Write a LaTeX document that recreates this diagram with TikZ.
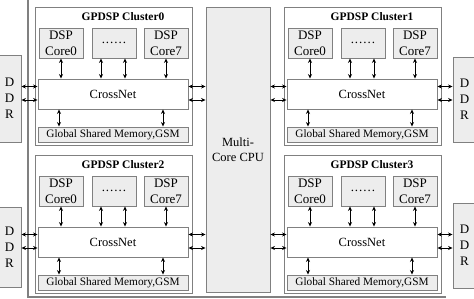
\documentclass[tikz,border=0pt]{standalone}
\usepackage{fontspec}
\setmainfont{Liberation Serif}
\usetikzlibrary{arrows.meta}
\definecolor{boxgray}{HTML}{808080}
\definecolor{fillgray}{HTML}{EDEDED}

\tikzset{
    clusterbox/.style={draw=boxgray, fill=white, line width=0.9pt, minimum width=157pt, minimum height=138pt, inner sep=0pt},
    corebox/.style={draw=boxgray, fill=fillgray, line width=0.9pt, minimum width=44pt, minimum height=30pt, inner sep=0pt, align=center, font=\fontsize{13}{16}\selectfont},
    netbox/.style={draw=boxgray, fill=white, line width=0.9pt, minimum width=150pt, minimum height=30pt, inner sep=0pt, font=\fontsize{12.5}{15}\selectfont},
    gsmbox/.style={draw=boxgray, fill=fillgray, line width=0.9pt, minimum width=150pt, minimum height=15pt, inner sep=0pt, font=\fontsize{11.3}{13}\selectfont},
    ddrbox/.style={draw=boxgray, fill=fillgray, line width=0.9pt, minimum width=23pt, inner sep=0pt, align=center, font=\fontsize{13}{16}\selectfont},
    biarrow/.style={{Stealth[length=4.5pt,width=4pt]}-{Stealth[length=4.5pt,width=4pt]}, line width=0.7pt},
}

\begin{document}
\begin{tikzpicture}[x=1pt, y=-1pt]
    \useasboundingbox (0,0) rectangle (474,299);
    % outer frame
    \draw[boxgray, line width=1.5pt] (28,-5) -- (28,297) -- (446,297);
    % memories and host
    \node[ddrbox, minimum height=87pt] (d0) at (9.5,98.5) {D\\D\\R};
    \node[ddrbox, minimum height=85pt] (d1) at (464.5,99.5) {D\\D\\R};
    \node[ddrbox, minimum height=80pt] (d2) at (9.5,247) {D\\D\\R};
    \node[ddrbox, minimum height=85pt] (d3) at (464.5,245.5) {D\\D\\R};
    \node[draw=boxgray, fill=fillgray, line width=0.9pt, minimum width=64pt, minimum height=285pt, inner sep=0pt, align=center, font=\fontsize{12.5}{15}\selectfont] (cpu) at (238,149.5) {Multi-\\Core CPU};
    % clusters
    \foreach \i/\ox/\oy/\na/\nb in {0/35/7/west/east, 1/284/7/east/west, 2/35/155/west/east, 3/284/155/east/west} {
        \node[clusterbox] (k\i) at (\ox+78.5,\oy+69) {};
        \node[font=\fontsize{11.5}{13}\selectfont\bfseries] (t\i) at (\ox+88,\oy+10) {GPDSP Cluster\i};
        \node[corebox] (ca\i) at (\ox+26,\oy+36) {DSP\\Core0};
        \node[corebox] (cb\i) at (\ox+79,\oy+36) {.\kern1pt.\kern1pt.\kern1pt.\kern1pt.\kern1pt.};
        \node[corebox] (cc\i) at (\ox+131,\oy+36) {DSP\\Core7};
        \node[netbox] (n\i) at (\ox+78,\oy+87) {CrossNet};
        \node[gsmbox] (g\i) at (\ox+78,\oy+127.5) {Global Shared Memory,GSM};
        % cores to CrossNet
        \coordinate (p\i) at ([xshift=-13pt]cb\i.south);
        \coordinate (q\i) at ([xshift=11pt]cb\i.south);
        \draw[biarrow] (ca\i.south) -- (ca\i.south |- n\i.north);
        \draw[biarrow] (p\i) -- (p\i |- n\i.north);
        \draw[biarrow] (q\i) -- (q\i |- n\i.north);
        \draw[biarrow] (cc\i.south) -- (cc\i.south |- n\i.north);
        % CrossNet to GSM
        \coordinate (r\i) at ([xshift=-2pt]ca\i.south);
        \coordinate (s\i) at ([xshift=-3pt]cc\i.south);
        \draw[biarrow] (r\i |- n\i.south) -- (r\i |- g\i.north);
        \draw[biarrow] (s\i |- n\i.south) -- (s\i |- g\i.north);
        % CrossNet to DDR and CPU
        \coordinate (u\i) at ([yshift=7.5pt]n\i.\na);
        \coordinate (v\i) at ([yshift=-6pt]n\i.\na);
        \draw[biarrow] (u\i) -- (u\i -| d\i.\nb);
        \draw[biarrow] (v\i) -- (v\i -| d\i.\nb);
        \coordinate (w\i) at ([yshift=7.5pt]n\i.\nb);
        \coordinate (z\i) at ([yshift=-6pt]n\i.\nb);
        \draw[biarrow] (w\i) -- (w\i -| cpu.\na);
        \draw[biarrow] (z\i) -- (z\i -| cpu.\na);
    }
\end{tikzpicture}
\end{document}
